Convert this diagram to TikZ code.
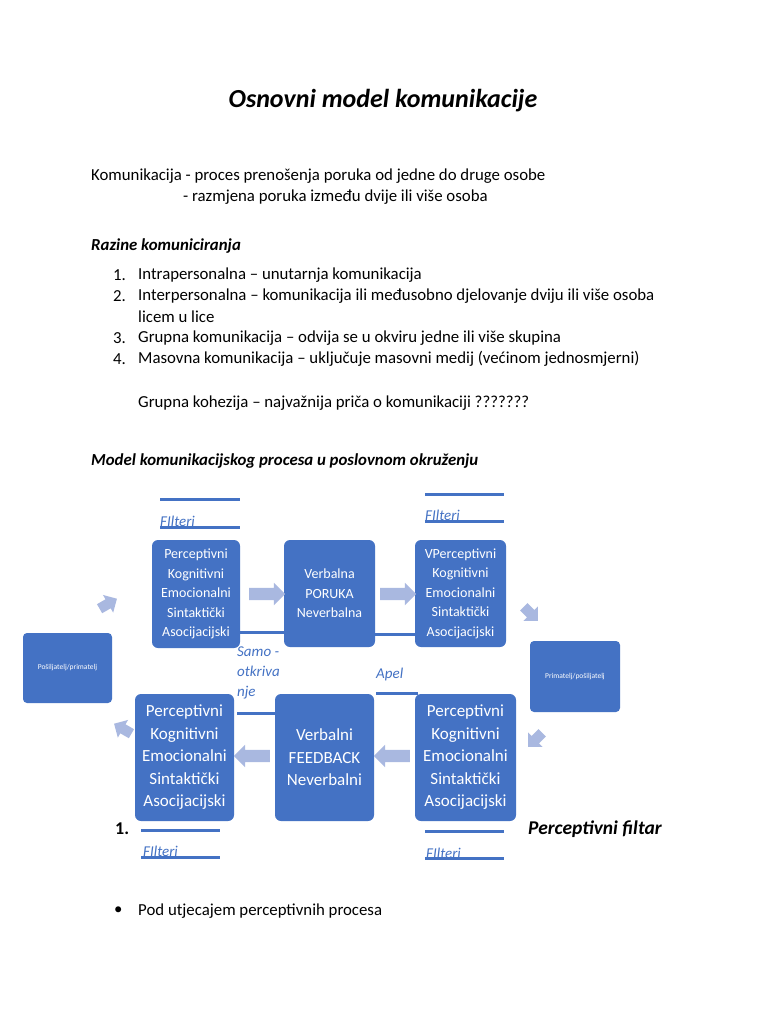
\documentclass[tikz,border=0pt]{standalone}
\usepackage{fontspec}
\setmainfont{Carlito}
\usetikzlibrary{shapes.arrows}
\definecolor{bl}{HTML}{4472C4}
\definecolor{arr}{HTML}{A9B8E0}
\begin{document}
\begin{tikzpicture}[x=1pt,y=-1pt,
 txt/.style={anchor=west,inner sep=0,font=\fontsize{16.8}{19}\selectfont},
 bx/.style={fill=bl,rounded corners=6,text=white,align=center,inner sep=0},
 small/.style={font=\fontsize{14}{19.5}\selectfont},
 big/.style={font=\fontsize{17}{22.5}\selectfont},
 fat/.style={single arrow,fill=arr,minimum height=36,minimum width=22,single arrow head extend=5,inner xsep=0,inner ysep=6},
 sfat/.style={single arrow,fill=arr,minimum height=20,minimum width=20,single arrow head extend=5,inner xsep=0,inner ysep=5},
 ln/.style={draw=bl,line width=3},
 lab/.style={anchor=west,inner sep=0,text=bl,font=\fontsize{15}{20}\itshape\selectfont,align=left}]
\useasboundingbox (0,0) rectangle (768,1024);
\fill[white] (0,0) rectangle (768,1024);
\node[inner sep=0,font=\fontsize{26}{30}\bfseries\itshape\selectfont] (title) at (383,101) {Osnovni model komunikacije};
\node[txt] (l1) at (91,176) {Komunikacija - proces prenošenja poruka od jedne do druge osobe};
\node[txt] (l2) at (183,197) {- razmjena poruka između dvije ili više osoba};
\node[txt,font=\fontsize{16.8}{19}\bfseries\itshape\selectfont] (raz) at (91,246) {Razine komuniciranja};
\foreach \n/\y in {1/275,2/296,3/338,4/359}{\node[txt] (n\n) at (113,\y) {\n.};}
\node[txt] (i1) at (138,275) {Intrapersonalna – unutarnja komunikacija};
\node[txt] (i2) at (138,296) {Interpersonalna – komunikacija ili međusobno djelovanje dviju ili više osoba};
\node[txt] (i2b) at (138,317) {licem u lice};
\node[txt] (i3) at (138,338) {Grupna komunikacija – odvija se u okviru jedne ili više skupina};
\node[txt] (i4) at (138,359) {Masovna komunikacija – uključuje masovni medij (većinom jednosmjerni)};
\node[txt] (koh) at (138,403) {Grupna kohezija – najvažnija priča o komunikaciji ???????};
\node[txt,font=\fontsize{16.8}{19}\bfseries\itshape\selectfont] (mod) at (91,461) {Model komunikacijskog procesa u poslovnom okruženju};
% boxes
\node[bx,small,minimum width=88,minimum height=108] (a) at (196,594) {Perceptivni\\Kognitivni\\Emocionalni\\Sintaktički\\Asocijacijski};
\node[bx,small,minimum width=91,minimum height=107] (b) at (329.5,593.5) {Verbalna\\PORUKA\\Neverbalna};
\node[bx,small,minimum width=91,minimum height=107] (c) at (460.5,593.5) {VPerceptivni\\Kognitivni\\Emocionalni\\Sintaktički\\Asocijacijski};
\node[bx,minimum width=89,minimum height=70,rounded corners=4,font=\fontsize{7.5}{8}\selectfont] (p) at (67.5,668) {Pošiljatelj/primatelj};
\node[bx,minimum width=90,minimum height=71,rounded corners=4,font=\fontsize{7.5}{8}\selectfont] (q) at (575,676.5) {Primatelj/pošiljatelj};
\node[bx,big,minimum width=99,minimum height=127] (d) at (184.5,757.5) {Perceptivni\\Kognitivni\\Emocionalni\\Sintaktički\\Asocijacijski};
\node[bx,big,minimum width=99,minimum height=127] (e) at (324.5,757.5) {Verbalni\\FEEDBACK\\Neverbalni};
\node[bx,big,minimum width=101,minimum height=127] (f) at (465.5,757.5) {Perceptivni\\Kognitivni\\Emocionalni\\Sintaktički\\Asocijacijski};
% arrows
\node[fat] (ar1) at (264,594) {};
\node[fat] (ar2) at (395,594) {};
\node[fat,shape border rotate=180] (ar3) at (255,756) {};
\node[fat,shape border rotate=180] (ar4) at (395,756) {};
\node[sfat,rotate=30] (s1) at (106,605) {};
\node[sfat,rotate=-45] (s2) at (529,612) {};
\node[sfat,rotate=-135] (s3) at (537,738) {};
\node[sfat,rotate=150] (s4) at (125,730) {};
% lines
\coordinate (t1a) at (160,499); \coordinate (t1b) at (240,499); \draw[ln] (t1a)--(t1b);
\coordinate (t2a) at (160,527); \coordinate (t2b) at (240,527); \draw[ln] (t2a)--(t2b);
\coordinate (t3a) at (425,494); \coordinate (t3b) at (504,494); \draw[ln] (t3a)--(t3b);
\coordinate (t4a) at (425,521); \coordinate (t4b) at (504,521); \draw[ln] (t4a)--(t4b);
\coordinate (m1a) at (240,632); \coordinate (m1b) at (284,632); \draw[ln] (m1a)--(m1b);
\coordinate (m2a) at (375,634); \coordinate (m2b) at (415,634); \draw[ln] (m2a)--(m2b);
\coordinate (m3a) at (237,713); \coordinate (m3b) at (275,713); \draw[ln] (m3a)--(m3b);
\coordinate (m4a) at (376,693); \coordinate (m4b) at (418,693); \draw[ln] (m4a)--(m4b);
\coordinate (b1a) at (141,830); \coordinate (b1b) at (220,830); \draw[ln] (b1a)--(b1b);
\coordinate (b2a) at (141,857); \coordinate (b2b) at (220,857); \draw[ln] (b2a)--(b2b);
\coordinate (b3a) at (425,831); \coordinate (b3b) at (504,831); \draw[ln] (b3a)--(b3b);
\coordinate (b4a) at (425,858); \coordinate (b4b) at (504,858); \draw[ln] (b4a)--(b4b);
\node[lab] (f1) at (160,521) {FIlteri};
\node[lab] (f2) at (425,515) {FIlteri};
\node[lab] (f3) at (143,851) {FIlteri};
\node[lab] (f4) at (426,853) {FIlteri};
\node[lab] (samo) at (237,673) {Samo -\\otkriva\\nje};
\node[lab] (apel) at (376,674) {Apel};
\node[txt,font=\fontsize{18}{20}\bfseries\selectfont] (one) at (115,829) {1.};
\node[txt,font=\fontsize{19.5}{21}\bfseries\itshape\selectfont] (pf) at (528,829) {Perceptivni filtar};
\node[txt] (bul) at (114,911) {•};
\node[txt] (pod) at (138,911) {Pod utjecajem perceptivnih procesa};
\end{tikzpicture}
\end{document}
